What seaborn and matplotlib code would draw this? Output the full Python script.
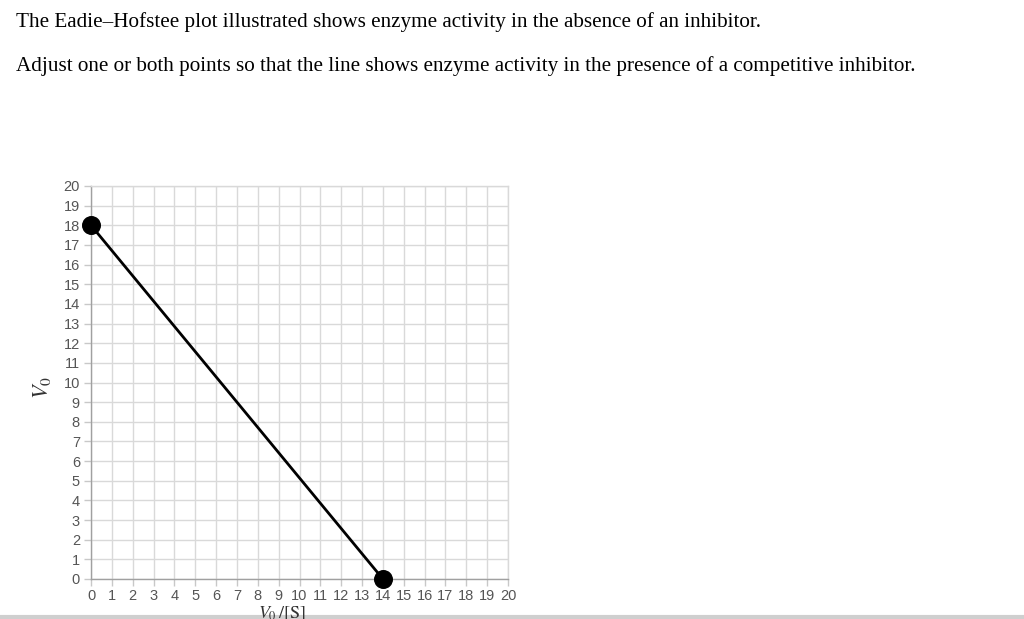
import matplotlib
matplotlib.use("Agg")
import matplotlib.pyplot as plt
import seaborn as sns
import pandas as pd
from matplotlib.lines import Line2D

# data
v_over_s = [0, 14]
v0 = [18, 0]
x_ticks = list(range(0, 21))
y_ticks = list(range(0, 21))

line1 = "The Eadie\u2013Hofstee plot illustrated shows enzyme activity in the absence of an inhibitor."
line2 = "Adjust one or both points so that the line shows enzyme activity in the presence of a competitive inhibitor."

df = pd.DataFrame({"x": v_over_s, "y": v0})

sns.set_style("white")
plt.rcParams["font.family"] = ["Liberation Sans", "DejaVu Sans"]
plt.rcParams["mathtext.fontset"] = "stix"

fig = plt.figure(figsize=(10.24, 6.19), dpi=100)
ax = fig.add_axes([91 / 1024, 1 - 579 / 619, (508 - 91) / 1024, (579 - 186) / 619])

sns.lineplot(data=df, x="x", y="y", ax=ax, color="black", linewidth=2.0, zorder=3)
sns.scatterplot(data=df, x="x", y="y", ax=ax, color="black", s=160, edgecolor="black",
                zorder=4, clip_on=False)

ax.set_xlim(0, 20)
ax.set_ylim(0, 20)
ax.set_xticks(x_ticks)
ax.set_yticks(y_ticks)
ax.set_xticklabels([str(t) for t in x_ticks])
ax.set_yticklabels([str(t) for t in y_ticks])
ax.grid(True, color="#d9d9d9", linewidth=1.0)
ax.set_axisbelow(True)
for side in ["top", "right"]:
    ax.spines[side].set_color("#d9d9d9")
    ax.spines[side].set_linewidth(1.0)
for side in ["left", "bottom"]:
    ax.spines[side].set_color("#a0a0a0")
    ax.spines[side].set_linewidth(1.0)
ax.tick_params(axis="both", which="both", length=5, width=1, color="#c8c8c8",
               labelcolor="#555555", labelsize=10.5, pad=2, left=True, bottom=True)
ax.tick_params(axis="y", pad=3)
ax.set_xlabel("")
ax.set_ylabel("")

fig.text(42 / 1024, 1 - 388 / 619, r"$V_0$", rotation=90, fontsize=16,
         color="#333333", ha="center", va="center")
fig.text(282 / 1024, 1 - 605 / 619, r"$V_0\,/[\mathrm{S}]$", fontsize=13,
         color="#333333", ha="center", va="top")

fig.text(16 / 1024, 1 - 22 / 619, line1, fontsize=15.2, family=["Liberation Serif", "DejaVu Serif"],
         color="black", ha="left", va="center")
fig.text(16 / 1024, 1 - 66 / 619, line2, fontsize=15.2, family=["Liberation Serif", "DejaVu Serif"],
         color="black", ha="left", va="center")

# page divider at the very bottom
fig.add_artist(Line2D([0, 1], [1 - 617 / 619, 1 - 617 / 619], transform=fig.transFigure,
                      color="#cfcfcf", linewidth=3))

fig.savefig("out.png", dpi=100)
